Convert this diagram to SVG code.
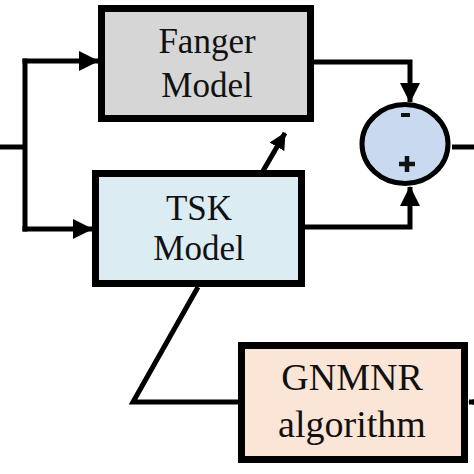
<svg xmlns="http://www.w3.org/2000/svg" width="474" height="474" viewBox="0 0 474 474">
<defs>
<marker id="ah" markerUnits="userSpaceOnUse" markerWidth="20" markerHeight="20" refX="19" refY="10" orient="auto" viewBox="0 0 20 20">
<path d="M0,0 L20,10 L0,20 z" fill="#000"/>
</marker>
<marker id="ahs" markerUnits="userSpaceOnUse" markerWidth="17" markerHeight="17" refX="16" refY="8.5" orient="auto" viewBox="0 0 17 17">
<path d="M0,0 L17,8.5 L0,17 z" fill="#000"/>
</marker>
</defs>
<style>
.box{stroke:#000;stroke-width:7}
.lbl{font-family:"Liberation Serif","Times New Roman",serif;font-size:35px;fill:#111;text-anchor:middle}
.ln{fill:none;stroke:#000;stroke-width:5;stroke-linejoin:miter}
</style>
<rect width="474" height="474" fill="#fff"/>
<g id="connectors">
<line class="ln" x1="0" y1="147" x2="25" y2="147"/>
<line class="ln" x1="25" y1="58.5" x2="25" y2="231.5"/>
<line class="ln" x1="22.5" y1="61" x2="98" y2="61" marker-end="url(#ah)"/>
<line class="ln" x1="22.5" y1="229" x2="92" y2="229" marker-end="url(#ah)"/>
<polyline class="ln" points="314,62 410,62 410,102" marker-end="url(#ah)"/>
<polyline class="ln" points="305,227 410,227 410,187" marker-end="url(#ah)"/>
<line class="ln" x1="452" y1="147" x2="474" y2="147"/>
<line class="ln" x1="263" y1="171" x2="285" y2="133" stroke-width="4" marker-end="url(#ahs)"/>
<polyline class="ln" points="198,287 133,402 240,402"/>
<line class="ln" x1="490" y1="402" x2="469" y2="402" marker-end="url(#ah)"/>
</g>
<g id="fanger">
<rect class="box" x="101.5" y="8.5" width="209" height="110" fill="#d6d6d6"/>
<text class="lbl" x="207" y="53">Fanger</text>
<text class="lbl" x="207" y="97">Model</text>
</g>
<g id="tsk">
<rect class="box" x="95.5" y="173.5" width="206" height="110" fill="#dbecf3"/>
<text class="lbl" x="199" y="220">TSK</text>
<text class="lbl" x="199" y="260">Model</text>
</g>
<g id="sum">
<ellipse cx="405" cy="144" rx="43" ry="39.5" fill="#c9d9ef" stroke="#000" stroke-width="5"/>
<rect x="401" y="113" width="9" height="4" fill="#111"/>
<path d="M399,164 h16 M407,156 v16" stroke="#111" stroke-width="4.5"/>
</g>
<g id="gnmnr">
<rect class="box" x="241.5" y="345.5" width="223" height="114" fill="#fbe5d6"/>
<text class="lbl" x="352" y="390" style="font-size:38px">GNMNR</text>
<text class="lbl" x="352" y="437" style="font-size:38px">algorithm</text>
</g>
</svg>
